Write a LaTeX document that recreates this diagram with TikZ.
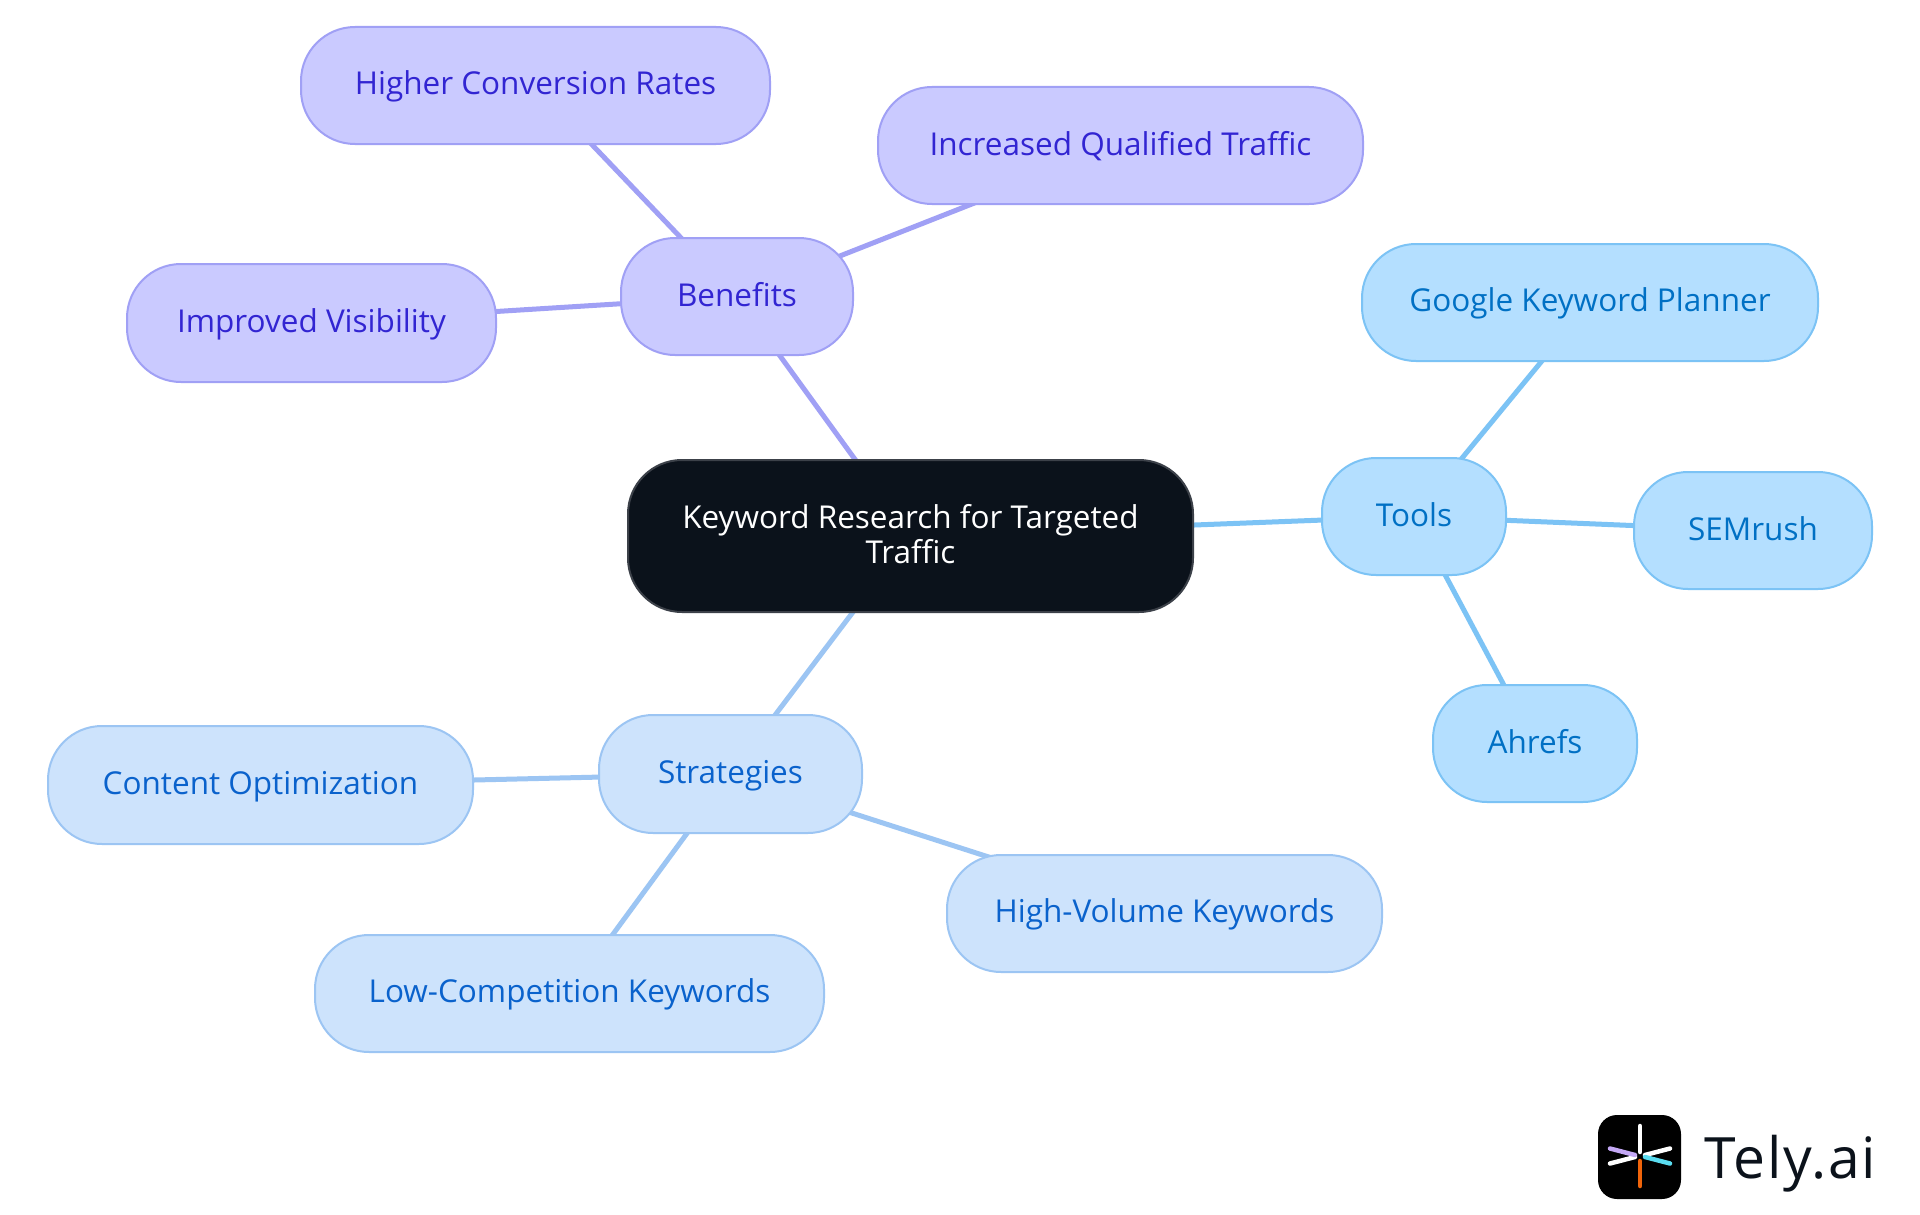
\documentclass[tikz,border=0pt]{standalone}
\usepackage{fontspec}
\setmainfont{Open Sans}
\usetikzlibrary{backgrounds}
\definecolor{pfill}{HTML}{CACAFF}\definecolor{pline}{HTML}{A0A0F5}\definecolor{ptext}{HTML}{3225D2}
\definecolor{tfill}{HTML}{B4DFFF}\definecolor{tline}{HTML}{7CC3F5}\definecolor{ttext}{HTML}{0070C4}
\definecolor{sfill}{HTML}{CDE3FC}\definecolor{sline}{HTML}{9CC5F3}\definecolor{stext}{HTML}{0A62CC}
\definecolor{dark}{HTML}{0B121B}
\definecolor{raypurple}{HTML}{C4A8F5}\definecolor{raycyan}{HTML}{5ADCF0}\definecolor{rayorange}{HTML}{F0640A}
\tikzset{
 x=1pt,y=-1pt,
 box/.style={rounded corners=54pt,draw,line width=2pt,inner sep=0pt,align=center,font=\fontsize{31.5}{35}\selectfont},
 purplebox/.style={box,fill=pfill,draw=pline,text=ptext},
 toolbox/.style={box,fill=tfill,draw=tline,text=ttext},
 stratbox/.style={box,fill=sfill,draw=sline,text=stext},
 rootbox/.style={box,fill=dark,draw=dark!80!white,text=white},
 plink/.style={draw=pline,line width=5pt},
 tlink/.style={draw=tline,line width=5pt},
 slink/.style={draw=sline,line width=5pt},
 ray/.style={line width=4.5pt,line cap=round}
}
\newcommand{\sv}{\rule[-7pt]{0pt}{33pt}}
\newcommand{\bx}[7]{\node[#1,minimum width=#5pt-#3pt,minimum height=#6pt-#4pt] (#2) at ({(#3+#5)/2},{(#4+#6)/2}) {\sv #7};}
\begin{document}
\begin{tikzpicture}
\useasboundingbox (0,0) rectangle (1920,1215);
\bx{rootbox}{root}{628}{460}{1193}{612}{Keyword Research for Targeted\\\sv Traffic}
\bx{purplebox}{ben}{621}{238}{853}{355}{Benefits}
\bx{purplebox}{hcr}{301}{27}{770}{144}{Higher Conversion Rates}
\bx{purplebox}{iqt}{878}{87}{1363}{204}{Increased Qualified Traffic}
\bx{purplebox}{imv}{127}{264}{496}{382}{Improved Visibility}
\bx{toolbox}{tools}{1322}{458}{1506}{575}{Tools}
\bx{toolbox}{gkp}{1362}{244}{1818}{361}{Google Keyword Planner}
\bx{toolbox}{sem}{1634}{472}{1872}{589}{SEMrush}
\bx{toolbox}{ahr}{1433}{685}{1637}{802}{Ahrefs}
\bx{stratbox}{str}{599}{715}{862}{833}{Strategies}
\bx{stratbox}{con}{48}{726}{473}{844}{Content Optimization}
\bx{stratbox}{low}{315}{935}{824}{1052}{Low-Competition Keywords}
\bx{stratbox}{hvk}{947}{855}{1382}{972}{High-Volume Keywords}
\begin{pgfonlayer}{background}
\fill[white] (0,0) rectangle (1920,1215);
\draw[plink] (root.center)--(ben.center);
\draw[plink] (ben.center)--(hcr.center);
\draw[plink] (ben.center)--(iqt.center);
\draw[plink] (ben.center)--(imv.center);
\draw[tlink] (root.center)--(tools.center);
\draw[tlink] (tools.center)--(gkp.center);
\draw[tlink] (tools.center)--(sem.center);
\draw[tlink] (tools.center)--(ahr.center);
\draw[slink] (root.center)--(str.center);
\draw[slink] (str.center)--(con.center);
\draw[slink] (str.center)--(low.center);
\draw[slink] (str.center)--(hvk.center);
\end{pgfonlayer}
\fill[black,rounded corners=19pt] (1598,1115) rectangle (1681,1199);
\draw[ray,white] (1640,1126)--(1640,1152);
\draw[ray,white] (1610,1163.5)--(1635,1157);
\draw[ray,white] (1670,1148.5)--(1645,1155);
\draw[ray,raypurple] (1610,1148.5)--(1635,1155);
\draw[ray,raycyan] (1670,1163.5)--(1645,1157);
\draw[ray,rayorange] (1640,1161)--(1640,1186);
\node[anchor=base west,inner sep=0pt,text=dark,font=\fontsize{57}{60}\selectfont\addfontfeature{LetterSpace=3}] (logo) at (1704,1178) {Tely.ai};
\end{tikzpicture}
\end{document}
